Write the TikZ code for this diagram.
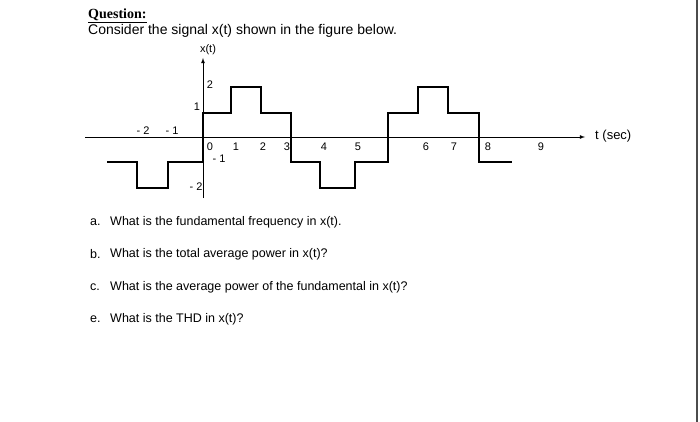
\documentclass[tikz,border=0pt]{standalone}
\usepackage{fontspec}
\setmainfont{Liberation Sans}
\newfontfamily\serifq{Liberation Serif}
\begin{document}
\begin{tikzpicture}[x=1pt,y=-1pt,
  lbl/.style={font=\fontsize{11}{12}\selectfont,inner sep=0pt},
  txt/.style={font=\fontsize{12.5}{14}\selectfont,anchor=west,inner sep=0pt},
  sig/.style={line width=2.4pt,line join=miter}]
\useasboundingbox (0,0) rectangle (700,422);
\fill[white] (0,0) rectangle (700,422);
\draw[line width=1.5pt,gray!60!black] (697,0) -- (697,422);
\node[anchor=west,inner sep=0pt,font=\serifq\bfseries\fontsize{14}{16}\selectfont] (q) at (88,16) {\underline{Question:}};
\node[anchor=west,inner sep=0pt,font=\fontsize{14}{16}\selectfont] (c) at (88,31) {Consider the signal x(t) shown in the figure below.};
% axes
\coordinate (xs) at (85,137); \coordinate (xe) at (585,137);
\coordinate (ys) at (203,198); \coordinate (ye) at (203,58);
\draw[-latex,line width=0.8pt] (xs) -- (xe);
\draw[-latex,line width=0.8pt] (ys) -- (ye);
\node[lbl] (xt) at (208,50) {x(t)};
\node[anchor=west,inner sep=0pt,font=\fontsize{13}{14}\selectfont] (ts) at (595,136) {t (sec)};
% signal
\draw[sig] (107,162) -- (137,162) -- (137,188) -- (168,188) -- (168,162) -- (203,162)
 -- (203,113) -- (231,113) -- (231,87) -- (261,87) -- (261,113) -- (291,113) -- (291,162)
 -- (320,162) -- (320,188) -- (355,188) -- (355,162) -- (388,162) -- (388,113) -- (418,113)
 -- (418,87) -- (448,87) -- (448,113) -- (479,113) -- (479,162) -- (512,162);
% tick labels
\foreach \t/\x in {0/210,1/236,2/263,3/287,4/324,5/358,6/426,7/454,8/488,9/541}
  \node[lbl] (t\t) at (\x,147) {\t};
\node[lbl] (m2) at (143,131) {- 2};
\node[lbl] (m1) at (172,131) {- 1};
\node[lbl] (v1) at (197,107) {1};
\node[lbl] (v2) at (210,85) {2};
\node[lbl] (vm1) at (219,159) {- 1};
\node[lbl] (vm2) at (196,187) {- 2};
% questions
\foreach \l/\s/\y in {a/What is the fundamental frequency in x(t)./222, b/What is the total average power in x(t)?/254, c/What is the average power of the fundamental in x(t)?/287, e/What is the THD in x(t)?/319}{
  \node[txt] (l\l) at (90,\y) {\l.};
  \node[txt] (s\l) at (110,\y) {\s};
}
\end{tikzpicture}
\end{document}
